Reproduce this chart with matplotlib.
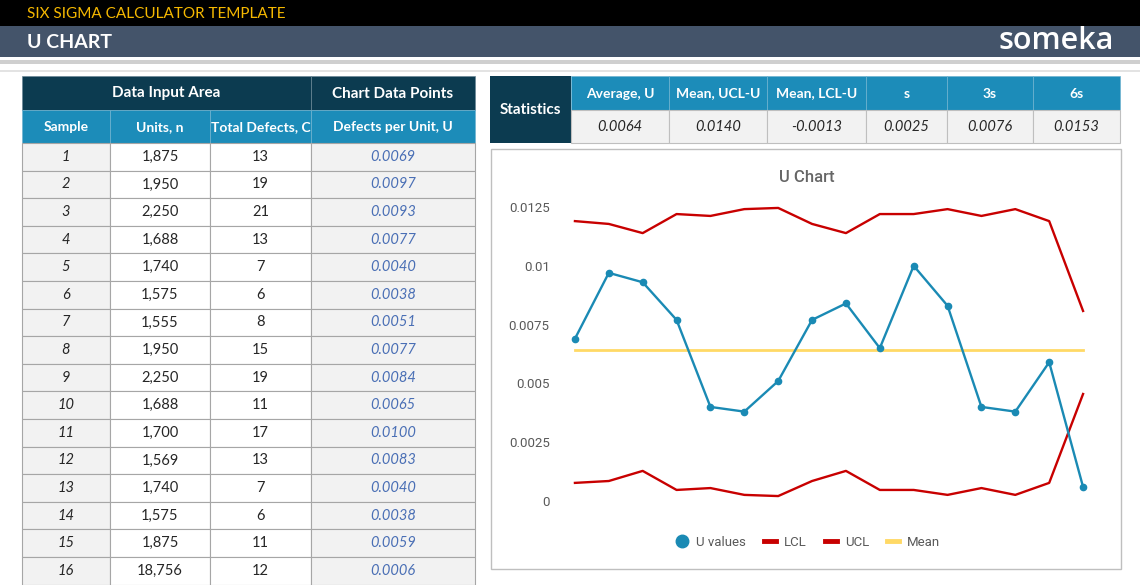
import matplotlib
matplotlib.use('Agg')
import matplotlib.pyplot as plt
from matplotlib.patches import Rectangle
from matplotlib.lines import Line2D
from matplotlib.ticker import FuncFormatter

# ---------------- data ----------------
samples = list(range(1, 17))
units = [1875, 1950, 2250, 1688, 1740, 1575, 1555, 1950, 2250, 1688,
         1700, 1569, 1740, 1575, 1875, 18756]
defects = [13, 19, 21, 13, 7, 6, 8, 15, 19, 11, 17, 13, 7, 6, 11, 12]
u_values = [0.0069, 0.0097, 0.0093, 0.0077, 0.0040, 0.0038, 0.0051, 0.0077,
            0.0084, 0.0065, 0.0100, 0.0083, 0.0040, 0.0038, 0.0059, 0.0006]
ucl = [0.01190, 0.01178, 0.01139, 0.01220, 0.01212, 0.01241, 0.01246, 0.01178,
       0.01139, 0.01220, 0.01220, 0.01241, 0.01212, 0.01241, 0.01190, 0.00808]
lcl = [0.00077, 0.00085, 0.00128, 0.00047, 0.00055, 0.00026, 0.00021, 0.00085,
       0.00128, 0.00047, 0.00047, 0.00026, 0.00055, 0.00026, 0.00077, 0.00455]
mean_u = [0.0064] * 16
stat_labels = ['Average, U', 'Mean, UCL-U', 'Mean, LCL-U', 's', '3s', '6s']
stat_values = ['0.0064', '0.0140', '-0.0013', '0.0025', '0.0076', '0.0153']
y_ticks = [0, 0.0025, 0.005, 0.0075, 0.01, 0.0125]
legend_labels = ['U values', 'LCL', 'UCL', 'Mean']

# ---------------- style ----------------
plt.rcParams['font.family'] = ['Lato', 'DejaVu Sans']
DARK = '#0C3B50'
BLUE = '#1C8CB9'
SLATE = '#44546A'
GOLD = '#F5B800'
GRID = '#A6A6A6'
LGREY = '#F2F2F2'
LINE_BLUE = '#1A8AB4'
RED = '#C80000'
YELLOW = '#FFD966'

W, H = 1140, 585
fig = plt.figure(figsize=(W / 100, H / 100), dpi=100)
bg = fig.add_axes([0, 0, 1, 1])
bg.set_xlim(0, W)
bg.set_ylim(H, 0)
bg.axis('off')


def rect(x0, y0, x1, y1, fc, ec='none', lw=0.0, z=1):
    bg.add_patch(Rectangle((x0, y0), x1 - x0, y1 - y0, facecolor=fc,
                           edgecolor=ec, linewidth=lw, zorder=z))


def txt(x, y, s, **kw):
    kw.setdefault('ha', 'center')
    kw.setdefault('va', 'center')
    bg.text(x, y, s, zorder=5, **kw)


# ---------------- header bars ----------------
rect(0, 0, W, 26, 'black')
rect(0, 26, W, 57, SLATE)
rect(0, 60, W, 64, '#CFCFCF')
rect(0, 70, W, 72, '#E3E3E3')
txt(27, 14, 'SIX SIGMA CALCULATOR TEMPLATE', ha='left', color=GOLD, fontsize=11)
txt(27, 43, 'U CHART', ha='left', color='white', fontsize=14, fontweight='bold')
txt(1056, 41, 'someka', color='white', fontsize=22, fontweight='semibold',
    family=['Open Sans', 'DejaVu Sans'])

# ---------------- left table ----------------
cols = [22, 110, 210, 311, 475]
rect(22, 76, 311, 110, DARK, ec='#6A8796', lw=0.5)
rect(311, 76, 475, 110, DARK, ec='#6A8796', lw=0.5)
txt(166, 93.5, 'Data Input Area', color='white', fontsize=11, fontweight='bold')
txt(393, 93.5, 'Chart Data Points', color='white', fontsize=11, fontweight='bold')
heads = ['Sample', 'Units, n', 'Total Defects, C', 'Defects per Unit, U']
for i, hname in enumerate(heads):
    rect(cols[i], 110, cols[i + 1], 143, BLUE, ec='#6FB3D0', lw=0.5)
    txt((cols[i] + cols[i + 1]) / 2, 127, hname, color='white', fontsize=10,
        fontweight='bold')

rh = 27.6
for i in range(len(samples)):
    y0 = 143 + i * rh
    y1 = y0 + rh
    yc = (y0 + y1) / 2
    fills = [LGREY, 'white', 'white', LGREY]
    for c in range(4):
        rect(cols[c], y0, cols[c + 1], y1, fills[c], ec=GRID, lw=0.8)
    txt(66, yc, str(samples[i]), style='italic', color='#262626', fontsize=10.5)
    txt(160, yc, f'{units[i]:,}', color='#262626', fontsize=10.5)
    txt(260.5, yc, str(defects[i]), color='#262626', fontsize=10.5)
    txt(393, yc, f'{u_values[i]:.4f}', style='italic', color='#4A6FB5', fontsize=10.5)

# ---------------- statistics table ----------------
scols = [571, 669, 767, 866, 947, 1033, 1120]
rect(490, 76, 571, 143, DARK)
txt(530.5, 110, 'Statistics', color='white', fontsize=11, fontweight='bold')
for i in range(6):
    rect(scols[i], 76, scols[i + 1], 110, BLUE, ec='#6FB3D0', lw=0.5)
    rect(scols[i], 110, scols[i + 1], 143, LGREY, ec='#BFBFBF', lw=0.8)
    xc = (scols[i] + scols[i + 1]) / 2
    txt(xc, 93.5, stat_labels[i], color='white', fontsize=10, fontweight='bold')
    txt(xc, 127, stat_values[i], style='italic', color='#262626', fontsize=10.5)

# ---------------- chart ----------------
rect(491, 149, 1121, 569, 'white', ec='#BFBFBF', lw=1.0)
txt(807, 178, 'U Chart', color='#666666', fontsize=12, fontweight='medium',
    family=['Roboto', 'DejaVu Sans'])

x_left, x_right = 558, 1100
y_zero, y_top = 501, 207
ax = fig.add_axes([x_left / W, (H - y_zero) / H, (x_right - x_left) / W,
                   (y_zero - y_top) / H])
ax.patch.set_alpha(0)
ax.set_xlim(0.5, 16.5)
ax.set_ylim(0, 0.0125)
for sp in ax.spines.values():
    sp.set_visible(False)
ax.set_xticks([])
ax.set_yticks(y_ticks)
ax.yaxis.set_major_formatter(FuncFormatter(lambda v, p: f'{v:g}'))
ax.tick_params(axis='y', length=0, pad=6, labelsize=9.5, labelcolor='#595959')
for lab in ax.get_yticklabels():
    lab.set_family(['Roboto', 'DejaVu Sans'])

ax.plot(samples, mean_u, color=YELLOW, lw=2.0, clip_on=False, zorder=2)
ax.plot(samples, ucl, color=RED, lw=1.7, clip_on=False, zorder=3)
ax.plot(samples, lcl, color=RED, lw=1.7, clip_on=False, zorder=3)
ax.plot(samples, u_values, color=LINE_BLUE, lw=1.7, marker='o', ms=4.5,
        clip_on=False, zorder=4)

handles = [
    Line2D([], [], ls='none', marker='o', ms=9, color=LINE_BLUE),
    Line2D([], [], color=RED, lw=3.5),
    Line2D([], [], color=RED, lw=3.5),
    Line2D([], [], color=YELLOW, lw=3.5),
]
fig.legend(handles, legend_labels, loc='center', bbox_to_anchor=(808 / W, 1 - 542 / H),
           ncol=4, frameon=False, handlelength=0.9, handletextpad=0.6,
           columnspacing=1.4, prop={'family': ['Roboto', 'DejaVu Sans'], 'size': 9.5},
           labelcolor='#595959')

fig.savefig('out.png', dpi=100)
